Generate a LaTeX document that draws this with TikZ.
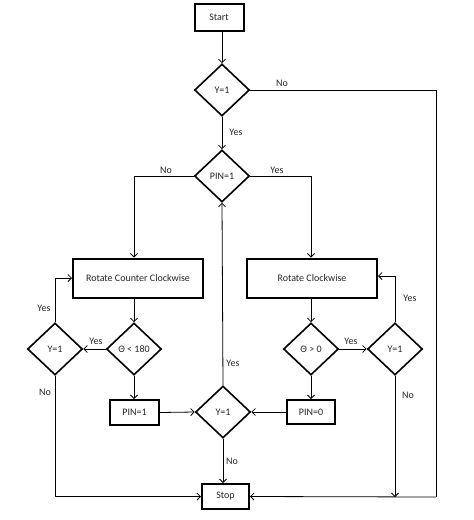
\documentclass[tikz,border=0pt]{standalone}
\usepackage{fontspec}
\setmainfont{Carlito}
\usetikzlibrary{shapes.geometric,arrows.meta}
\begin{document}
\begin{tikzpicture}[x=1pt,y=-1pt,
  box/.style={draw, line width=2pt, inner sep=0pt, font=\fontsize{10}{11}\selectfont, text=black!85},
  dia/.style={draw, diamond, line width=1.6pt, inner sep=0pt, minimum width=55pt, minimum height=52pt, font=\fontsize{10}{11}\selectfont, text=black!85},
  conn/.style={line width=0.8pt, -{Straight Barb[length=3.5pt,width=7pt]}},
  line/.style={line width=0.8pt},
  lbl/.style={font=\fontsize{10}{11}\selectfont, text=black!85, inner sep=0pt}]
\useasboundingbox (0,0) rectangle (474,520);
% nodes
\node[box, minimum width=49pt, minimum height=27pt] (start) at (219,17.5) {Start};
\node[dia] (y1) at (222,90) {Y=1};
\node[dia] (pin) at (222,176) {PIN=1};
\node[box, minimum width=130pt, minimum height=39pt] (ccw) at (138,278) {Rotate Counter Clockwise};
\node[box, minimum width=130pt, minimum height=39pt] (cw) at (312,278) {Rotate Clockwise};
\node[dia] (tl) at (134,349) {Θ < 180};
\node[dia] (yl) at (55,349) {Y=1};
\node[dia] (tr) at (311,349) {Θ > 0};
\node[dia] (yr) at (395,349) {Y=1};
\node[box, minimum width=49pt, minimum height=25pt] (p1) at (134.5,412.5) {PIN=1};
\node[box, minimum width=48pt, minimum height=24pt] (p0) at (311,412) {PIN=0};
\node[dia] (ym) at (223,412) {Y=1};
\node[box, minimum width=47pt, minimum height=25pt] (stop) at (225.5,496.5) {Stop};
\coordinate (rc) at (436,90);
\coordinate (rb) at (436,497);
\coordinate (yrb) at (395,497);
% connectors
\draw[conn] (start.south -| y1.north) -- (y1.north);
\draw[line] (y1.east) -- (rc) -- (rb);
\draw[conn] (rb) -- (stop.east);
\draw[conn] (y1.south) -- (pin.north);
\draw[conn] (pin.west) -| (tl.north |- ccw.north);
\draw[conn] (pin.east) -| (tr.north |- cw.north);
\draw[conn] (tl.north |- ccw.south) -- (tl.north);
\draw[conn] (tr.north |- cw.south) -- (tr.north);
\draw[conn] (tl.west) -- (yl.east);
\draw[conn] (yl.north) |- (ccw.west);
\draw[conn] (yl.south) |- (stop.west);
\draw[conn] (tl.south) -- (p1.north -| tl.south);
\draw[conn] (tr.south) -- (p0.north -| tr.south);
\draw[conn] (p1.east) -- (ym.west);
\draw[conn] (p0.west) -- (ym.east);
\draw[conn] (ym.north) -- (pin.south);
\draw[conn] (ym.south) -- (stop.north -| ym.south);
\draw[conn] (tr.east) -- (yr.west);
\draw[conn] (yr.north) |- ([yshift=2pt]cw.east);
\draw[conn] (yr.south) -- (yrb);
% labels
\node[lbl] (l1) at (282,83) {No};
\node[lbl] (l2) at (236,132) {Yes};
\node[lbl] (l3) at (166,170) {No};
\node[lbl] (l4) at (277,170) {Yes};
\node[lbl] (l5) at (44,308) {Yes};
\node[lbl] (l6) at (96,341) {Yes};
\node[lbl] (l7) at (45,392) {No};
\node[lbl] (l8) at (233,363) {Yes};
\node[lbl] (l9) at (232,461) {No};
\node[lbl] (l10) at (351,341) {Yes};
\node[lbl] (l11) at (410,298) {Yes};
\node[lbl] (l12) at (408,395) {No};
\end{tikzpicture}
\end{document}
